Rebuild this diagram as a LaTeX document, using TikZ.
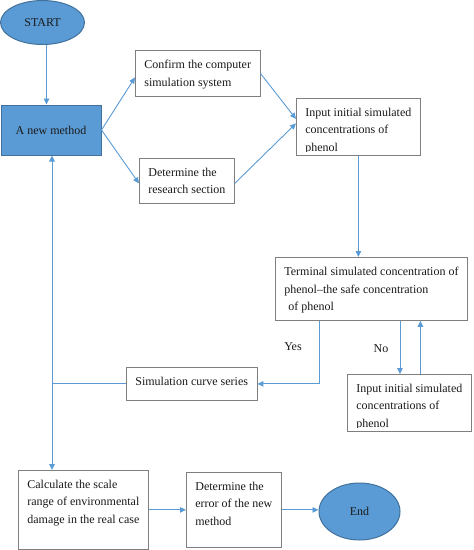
\documentclass[tikz,border=0pt]{standalone}
\usepackage{fontspec}
\setmainfont{Liberation Serif}
\usetikzlibrary{arrows.meta,shapes.geometric}
\definecolor{fillblue}{HTML}{5B9BD5}
\definecolor{edgeblue}{HTML}{41719C}
\definecolor{lineblue}{HTML}{5B9BD5}
\definecolor{boxgray}{HTML}{7F7F7F}
\definecolor{txt}{HTML}{1A1A1A}
\newcommand\boxtxt[3]{\parbox[c][#1][t]{#2}{#3}}
\newcommand\rowtxt[1]{\hbox{#1}}
\begin{document}
\begin{tikzpicture}[x=1pt,y=-1pt,
  every node/.style={font=\fontsize{12pt}{17.7pt}\selectfont, text=txt},
  box/.style={draw=boxgray, line width=0.8pt, fill=white, anchor=north west, inner xsep=9pt, inner ysep=9.5pt},
  term/.style={ellipse, draw=edgeblue, line width=1pt, fill=fillblue, inner sep=0pt},
  conn/.style={draw=lineblue, line width=0.9pt},
  arr/.style={conn, -{Triangle[length=6pt,width=5.5pt]}},
  darr/.style={conn, {Triangle[length=6pt,width=5.5pt]}-{Triangle[length=6pt,width=5.5pt]}},
  mask/.style={fill=white, draw=none}
]
\useasboundingbox (0,0) rectangle (474,550);

% terminals
\node[term, minimum width=84pt, minimum height=44pt] (start) at (42.5,22.5) {START};
\node[term, minimum width=81pt, minimum height=57pt] (end) at (359.5,511.5) {End};

% method box
\node[fill=fillblue, draw=edgeblue, line width=1pt, minimum width=100pt, minimum height=50pt, inner sep=0pt] (method) at (51,130) {A new method};

% process boxes
\node[box] (confirm) at (135,50) {\boxtxt{27pt}{112pt}{\rowtxt{Confirm the computer}\rowtxt{simulation system}}};
\node[box] (determine) at (139,158) {\boxtxt{26pt}{109pt}{\rowtxt{Determine the}\rowtxt{research section}}};
\node[box] (input1) at (296,98) {\boxtxt{38pt}{113pt}{\rowtxt{Input initial simulated}\rowtxt{concentrations of}\rowtxt{phenol}}};
\node[box] (terminal) at (275,257) {\boxtxt{44pt}{177pt}{\rowtxt{Terminal simulated concentration of}\rowtxt{phenol–the safe concentration}\rowtxt{\hspace*{4pt}of phenol}}};
\node[box] (input2) at (347,374) {\boxtxt{38pt}{108pt}{\rowtxt{Input initial simulated}\rowtxt{concentrations of}\rowtxt{phenol}}};
\node[box] (sim) at (126,367) {\boxtxt{14pt}{124pt}{\rowtxt{Simulation curve series}}};
\node[box] (calc) at (18,470) {\boxtxt{60pt}{121pt}{\rowtxt{Calculate the scale}\rowtxt{range of environmental}\rowtxt{damage in the real case}}};
\node[box] (error) at (186,472) {\boxtxt{56pt}{84pt}{\rowtxt{Determine the}\rowtxt{error of the new}\rowtxt{method}}};

% the last text line of both input boxes is cut off at the bottom, as in the reference
\path[mask] ([shift={(0.5pt,0.45pt)}]input1.south west) rectangle ([shift={(-0.5pt,3.4pt)}]input1.south east);
\path[mask] ([shift={(0.5pt,0.45pt)}]input2.south west) rectangle ([shift={(-0.5pt,3.4pt)}]input2.south east);

% labels
\node (yes) at (293,347) {Yes};
\node (no) at (381,349) {No};

% connectors
\coordinate (s1) at ([xshift=4pt]start.south);
\draw[arr] (s1) -- (s1 |- method.north);
\draw[arr] (method.east) -- ([yshift=-4pt]confirm.west);
\draw[arr] (method.east) -- ([yshift=-2.5pt]determine.west);
\draw[arr] (confirm.east) -- ([yshift=8pt]input1.west);
\draw[arr] ([yshift=-2.5pt]determine.east) -- ([yshift=3.5pt]input1.west);
\draw[arr] (input1.south) -- (input1.south |- terminal.north);
\coordinate (yt) at ([xshift=-52.5pt]terminal.south);
\draw[arr] (yt) |- (sim.east);
\coordinate (nt) at ([xshift=28.5pt]terminal.south);
\draw[arr] (nt) -- (nt |- input2.north);
\coordinate (ut) at ([xshift=11pt]input2.north);
\draw[arr] (ut) -- (ut |- terminal.south);
\coordinate (vt) at ([xshift=1pt]method.south);
\draw[darr] (vt) -- (vt |- calc.north);
\draw[conn] (sim.west) -- (sim.west -| vt);
\draw[arr] (calc.east) -- (calc.east -| error.west);
\draw[arr] (error.east) -- (error.east -| end.west);
\end{tikzpicture}
\end{document}
